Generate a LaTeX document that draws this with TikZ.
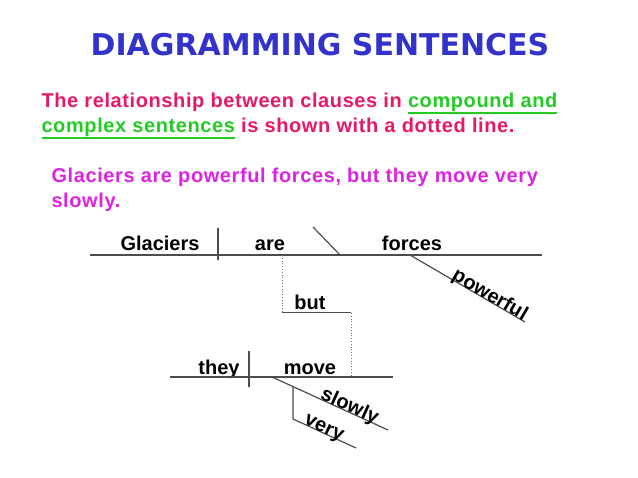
\documentclass[tikz,border=0pt]{standalone}
\usepackage{fontspec}
\setmainfont{Liberation Sans}
\newfontfamily\titlefont{DejaVu Sans}
\newfontfamily\slidefont[LetterSpace=3]{Liberation Sans}
\definecolor{titleblue}{RGB}{51,51,204}
\definecolor{rosered}{RGB}{230,24,104}
\definecolor{grassgreen}{RGB}{34,204,34}
\definecolor{violetpink}{RGB}{222,34,226}
\newcommand\greenul[1]{{\color{grassgreen}\vtop{\hbox{#1}\kern0.2pt\hrule height 1.5pt}}}
\tikzset{
  word/.style={anchor=base, text=black, font=\bfseries\fontsize{20}{24}\selectfont},
  diagline/.style={line width=1.2pt, black!70},
  clauselink/.style={line width=0.8pt, black!55, dotted},
  textline/.style={anchor=base west, font=\slidefont\bfseries\fontsize{20}{24}\selectfont}
}
\begin{document}
\begin{tikzpicture}[x=1pt,y=-1pt]
\useasboundingbox (0,0) rectangle (638,478);

\node[font=\titlefont\bfseries\fontsize{30}{36}\selectfont, text=titleblue] (title) at (320,45) {DIAGRAMMING SENTENCES};

\node[textline, text=rosered] (rule1) at (38,108) {The relationship between clauses in \greenul{compound and}};
\node[textline, text=rosered] (rule2) at (38,133) {\greenul{complex sentences} is shown with a dotted line.};
\node[textline, text=violetpink] (sent1) at (48,183) {Glaciers are powerful forces, but they move very};
\node[textline, text=violetpink] (sent2) at (48,208) {slowly.};

\foreach \wx/\wy/\wtext/\wname in {160/251/Glaciers/glac,270/251/are/are,412/251/forces/forc,310/310/but/but,219/375/they/they,310/375/move/move}
\node[word] (\wname) at (\wx,\wy) {\wtext};

\coordinate (topL) at (90,255);
\coordinate (topR) at (542,255);
\coordinate (subjT) at (218,228);
\coordinate (subjB) at (218,260);
\coordinate (compT) at (313,227);
\coordinate (compB) at (340,255);
\coordinate (powA) at (410,255);
\coordinate (powB) at (525,322);
\draw[diagline] (topL)--(topR);
\draw[diagline] (subjT)--(subjB);
\draw[diagline] (compT)--(compB);
\draw[diagline] (powA)--(powB) node[pos=.67, sloped, word] (pow) {powerful};

\coordinate (linkA) at (282,255);
\coordinate (linkB) at (282,313);
\coordinate (linkC) at (351,313);
\coordinate (linkD) at (351,377);
\draw[clauselink] (linkA)--(linkB);
\draw[diagline, line width=1pt] (linkB)--(linkC);
\draw[clauselink] (linkC)--(linkD);

\coordinate (lowL) at (170,377);
\coordinate (lowR) at (393,377);
\coordinate (verbT) at (249,351);
\coordinate (verbB) at (249,387);
\coordinate (slowA) at (272,377);
\coordinate (slowB) at (388,430);
\draw[diagline] (lowL)--(lowR);
\draw[diagline] (verbT)--(verbB);
\draw[diagline] (slowA)--(slowB) node[pos=.65, sloped, word] (slow) {slowly};

\coordinate (veryA) at (293,386.6);
\coordinate (veryB) at (293,419);
\coordinate (veryC) at (356,448);
\draw[diagline] (veryA)--(veryB)--(veryC) node[pos=.46, sloped, word] (very) {very};

\end{tikzpicture}
\end{document}
